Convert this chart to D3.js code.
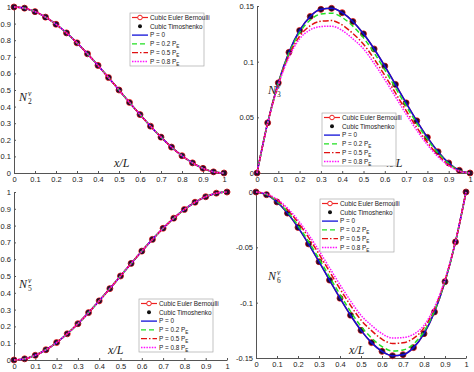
<!DOCTYPE html>
<html>
<head>
<meta charset="utf-8">
<script src="https://cdn.jsdelivr.net/npm/d3@7"></script>
<style>
  body { margin: 0; background: #fff; }
  .tick text { font-family: "Liberation Sans", Arial, sans-serif; font-size: 7.5px; fill: #1a1a1a; }
  .domain, .tick line { stroke: #555; }
</style>
</head>
<body>
<div id="chart"></div>
<script>
// sample positions along the element (x/L)
var xPts = [0, 0.05, 0.1, 0.15, 0.2, 0.25, 0.3, 0.35, 0.4, 0.45, 0.5,
            0.55, 0.6, 0.65, 0.7, 0.75, 0.8, 0.85, 0.9, 0.95, 1];

// N2 and N5: all load cases coincide
var n2Vals = [1, 0.993, 0.972, 0.939, 0.896, 0.844, 0.784, 0.718, 0.648, 0.575, 0.5,
              0.425, 0.352, 0.282, 0.216, 0.156, 0.104, 0.061, 0.028, 0.007, 0];
var n5Vals = [0, 0.007, 0.028, 0.061, 0.104, 0.156, 0.216, 0.282, 0.352, 0.425, 0.5,
              0.575, 0.648, 0.718, 0.784, 0.844, 0.896, 0.939, 0.972, 0.993, 1];

// N3 for P = 0, 0.2PE, 0.5PE, 0.8PE
var n3P0  = [0, 0.0451, 0.081, 0.1084, 0.128, 0.1406, 0.147, 0.1479, 0.144, 0.1361, 0.125,
             0.1114, 0.096, 0.0796, 0.063, 0.0469, 0.032, 0.0191, 0.009, 0.0024, 0];
var n3P02 = [0, 0.0449, 0.0805, 0.1072, 0.126, 0.1374, 0.1428, 0.1436, 0.1397, 0.1319, 0.1214,
             0.1079, 0.0927, 0.0766, 0.0603, 0.0446, 0.0302, 0.0179, 0.0084, 0.0022, 0];
var n3P05 = [0, 0.0447, 0.0796, 0.1054, 0.1228, 0.1323, 0.1363, 0.1369, 0.133, 0.1253, 0.1157,
             0.1024, 0.0876, 0.0719, 0.0561, 0.041, 0.0274, 0.016, 0.0073, 0.0019, 0];
var n3P08 = [0, 0.0445, 0.079, 0.104, 0.1205, 0.1286, 0.1315, 0.1319, 0.128, 0.1205, 0.1115,
             0.0984, 0.0838, 0.0684, 0.053, 0.0384, 0.0254, 0.0146, 0.0066, 0.0017, 0];

// N6 for P = 0, 0.2PE, 0.5PE, 0.8PE
var n6P0  = [0, -0.0024, -0.009, -0.0191, -0.032, -0.0469, -0.063, -0.0796, -0.096, -0.1114, -0.125,
             -0.1361, -0.144, -0.1479, -0.147, -0.1406, -0.128, -0.1084, -0.081, -0.0451, 0];
var n6P02 = [0, -0.0022, -0.0084, -0.0179, -0.0302, -0.0446, -0.0603, -0.0766, -0.0927, -0.1079, -0.1214,
             -0.1319, -0.1397, -0.1436, -0.1428, -0.1374, -0.126, -0.1072, -0.0805, -0.0449, 0];
var n6P05 = [0, -0.0019, -0.0073, -0.016, -0.0274, -0.041, -0.0561, -0.0719, -0.0876, -0.1024, -0.1157,
             -0.1253, -0.133, -0.1369, -0.1363, -0.1323, -0.1228, -0.1054, -0.0796, -0.0447, 0];
var n6P08 = [0, -0.0017, -0.0066, -0.0146, -0.0254, -0.0384, -0.053, -0.0684, -0.0838, -0.0984, -0.1115,
             -0.1205, -0.128, -0.1319, -0.1315, -0.1286, -0.1205, -0.104, -0.079, -0.0445, 0];

// tick labels
var xTicks = [0, 0.1, 0.2, 0.3, 0.4, 0.5, 0.6, 0.7, 0.8, 0.9, 1];
var unitTicks = [0, 0.1, 0.2, 0.3, 0.4, 0.5, 0.6, 0.7, 0.8, 0.9, 1];
var n3Ticks = [0, 0.05, 0.1, 0.15];
var n6Ticks = [-0.15, -0.1, -0.05, 0];

var legendNames = ["Cubic Euler Bernoulli", "Cubic Timoshenko", "P = 0", "P = 0.2 P", "P = 0.5 P", "P = 0.8 P"];

// line styles for the four load cases
var styles = [
    { color: "#1010d8", dash: null },
    { color: "#22e022", dash: "5,3" },
    { color: "#e01010", dash: "6,2,1.5,2" },
    { color: "#ff10ff", dash: "1.5,1.2" }
];

var svg = d3.select("#chart")
    .append("svg")
    .attr("width", 474)
    .attr("height", 372);

function drawPanel(p) {
    var x = d3.scaleLinear().domain([0, 1]).range([p.x0, p.x1]);
    var y = d3.scaleLinear().domain(p.yDomain).range([p.yBot, p.yTop]);
    var g = svg.append("g");

    g.append("g")
        .attr("transform", "translate(0," + y(p.yDomain[0] < 0 ? p.yDomain[0] : 0) + ")")
        .call(d3.axisBottom(x).tickValues(xTicks).tickSizeInner(-2).tickSizeOuter(0)
            .tickPadding(4).tickFormat(d => String(d)));
    g.append("g")
        .attr("transform", "translate(" + x(0) + ",0)")
        .call(d3.axisLeft(y).tickValues(p.yTicks).tickSizeInner(-2).tickSizeOuter(0)
            .tickPadding(3).tickFormat(d => String(d)));

    var line = d3.line()
        .x((d, i) => x(xPts[i]))
        .y(d => y(d))
        .curve(d3.curveMonotoneX);

    // Euler Bernoulli: red line with open circles
    g.append("path").attr("d", line(p.series[0]))
        .attr("fill", "none").attr("stroke", "#ee2020").attr("stroke-width", 1.5);
    g.selectAll(".eb").data(p.series[0]).enter().append("circle")
        .attr("cx", (d, i) => x(xPts[i])).attr("cy", d => y(d)).attr("r", 3)
        .attr("fill", "none").attr("stroke", "#ee2020").attr("stroke-width", 1);
    // Timoshenko: black dots
    g.selectAll(".ts").data(p.series[0]).enter().append("circle")
        .attr("cx", (d, i) => x(xPts[i])).attr("cy", d => y(d)).attr("r", 2.8)
        .attr("fill", "#2a0a2a");

    p.series.forEach(function(s, k) {
        g.append("path").attr("d", line(s))
            .attr("fill", "none")
            .attr("stroke", styles[k].color)
            .attr("stroke-width", 1.5)
            .attr("stroke-dasharray", styles[k].dash);
    });

    // axis labels
    var lab = g.append("g").attr("font-family", "'Liberation Serif', 'DejaVu Serif', serif")
        .attr("font-style", "italic").attr("fill", "#1a1a1a");
    lab.append("text").attr("x", p.nx).attr("y", p.ny).attr("font-size", 12).text("N");
    lab.append("text").attr("x", p.nx + 9).attr("y", p.ny - 5).attr("font-size", 7.5).text("v");
    lab.append("text").attr("x", p.nx + 9).attr("y", p.ny + 3).attr("font-size", 7.5)
        .attr("font-style", "normal").text(p.sub);
    lab.append("text").attr("x", p.lx).attr("y", p.ly).attr("font-size", 12).text("x/L");

    // legend
    var lg = g.append("g").attr("transform", "translate(" + p.legX + "," + p.legY + ")");
    lg.append("rect").attr("width", 74).attr("height", 53)
        .attr("fill", "#fff").attr("stroke", "#aaa").attr("stroke-width", 0.7);
    legendNames.forEach(function(name, i) {
        var cy = 4.5 + i * 8.8;
        if (i === 0) {
            lg.append("line").attr("x1", 2).attr("x2", 18).attr("y1", cy).attr("y2", cy)
                .attr("stroke", "#ee2020").attr("stroke-width", 1.2);
            lg.append("circle").attr("cx", 10).attr("cy", cy).attr("r", 2.3)
                .attr("fill", "#fff").attr("stroke", "#ee2020");
        } else if (i === 1) {
            lg.append("circle").attr("cx", 10).attr("cy", cy).attr("r", 2).attr("fill", "#111");
        } else {
            var st = styles[i - 2];
            lg.append("line").attr("x1", 2).attr("x2", 18).attr("y1", cy).attr("y2", cy)
                .attr("stroke", st.color).attr("stroke-width", 1.3)
                .attr("stroke-dasharray", st.dash);
        }
        var t = lg.append("text").attr("x", 20).attr("y", cy + 2.2)
            .attr("font-family", "'Liberation Sans', Arial, sans-serif")
            .attr("font-size", 6.4).attr("fill", "#1a1a1a").text(name);
        if (i > 2) t.append("tspan").attr("dy", 1.8).attr("font-size", 4.6).text("E");
    });
}

drawPanel({ x0: 14, x1: 224, yTop: 7, yBot: 173, yDomain: [0, 1], yTicks: unitTicks,
    series: [n2Vals, n2Vals, n2Vals, n2Vals], sub: "2", nx: 19, ny: 101, lx: 114, ly: 167,
    legX: 130, legY: 13 });
drawPanel({ x0: 257, x1: 470, yTop: 6, yBot: 173, yDomain: [0, 0.15], yTicks: n3Ticks,
    series: [n3P0, n3P02, n3P05, n3P08], sub: "3", nx: 268, ny: 94, lx: 387, ly: 167,
    legX: 322, legY: 113 });
drawPanel({ x0: 14, x1: 227, yTop: 192, yBot: 360, yDomain: [0, 1], yTicks: unitTicks,
    series: [n5Vals, n5Vals, n5Vals, n5Vals], sub: "5", nx: 19, ny: 288, lx: 108, ly: 354,
    legX: 139, legY: 299 });
drawPanel({ x0: 256, x1: 466, yTop: 192, yBot: 358, yDomain: [-0.15, 0], yTicks: n6Ticks,
    series: [n6P0, n6P02, n6P05, n6P08], sub: "6", nx: 268, ny: 280, lx: 349, ly: 354,
    legX: 320, legY: 199 });
</script>
</body>
</html>
